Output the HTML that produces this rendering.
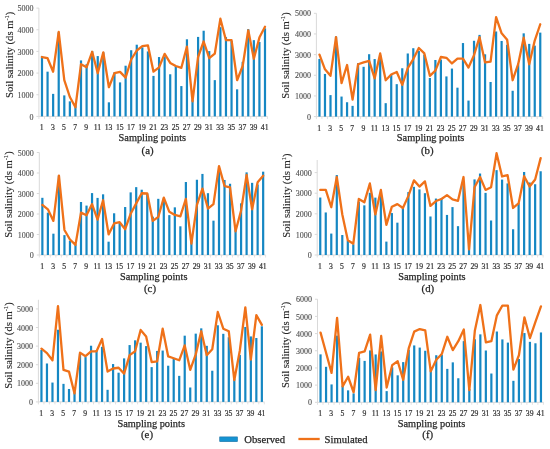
<!DOCTYPE html>
<html><head><meta charset="utf-8"><style>
html,body{margin:0;padding:0;background:#fff;}
svg{display:block;filter:blur(0.3px);}
text{font-family:"Liberation Serif",serif;fill:#262626;stroke:#262626;stroke-width:0.25px;}
.yt{font-size:8px;text-anchor:end;fill:#505050;stroke:#505050;stroke-width:0.12px;}
.xt{font-size:7.7px;text-anchor:middle;fill:#333;stroke:#333;stroke-width:0.2px;}
.st{font-size:11.2px;text-anchor:middle;}
.pl{font-size:10.8px;text-anchor:middle;}
.yl{font-size:10.6px;text-anchor:start;stroke-width:0.12px;}
.sup{font-size:6.5px;}
.lg{font-size:11px;}
</style></head><body>
<svg width="550" height="449" viewBox="0 0 550 449">
<rect width="550" height="449" fill="#fff"/>
<g><line x1="38.90" y1="8.10" x2="38.90" y2="116.40" stroke="#d9d9d9" stroke-width="1"/><line x1="38.90" y1="116.40" x2="267.48" y2="116.40" stroke="#d9d9d9" stroke-width="1"/><line x1="36.40" y1="116.40" x2="38.90" y2="116.40" stroke="#d9d9d9" stroke-width="1"/><text x="33.40" y="119.50" class="yt">0</text><line x1="36.40" y1="94.74" x2="38.90" y2="94.74" stroke="#d9d9d9" stroke-width="1"/><text x="33.40" y="97.84" class="yt">1000</text><line x1="36.40" y1="73.08" x2="38.90" y2="73.08" stroke="#d9d9d9" stroke-width="1"/><text x="33.40" y="76.18" class="yt">2000</text><line x1="36.40" y1="51.42" x2="38.90" y2="51.42" stroke="#d9d9d9" stroke-width="1"/><text x="33.40" y="54.52" class="yt">3000</text><line x1="36.40" y1="29.76" x2="38.90" y2="29.76" stroke="#d9d9d9" stroke-width="1"/><text x="33.40" y="32.86" class="yt">4000</text><line x1="36.40" y1="8.10" x2="38.90" y2="8.10" stroke="#d9d9d9" stroke-width="1"/><text x="33.40" y="11.20" class="yt">5000</text><line x1="38.90" y1="116.40" x2="38.90" y2="118.90" stroke="#d9d9d9" stroke-width="0.8"/><line x1="44.48" y1="116.40" x2="44.48" y2="118.90" stroke="#d9d9d9" stroke-width="0.8"/><line x1="50.05" y1="116.40" x2="50.05" y2="118.90" stroke="#d9d9d9" stroke-width="0.8"/><line x1="55.62" y1="116.40" x2="55.62" y2="118.90" stroke="#d9d9d9" stroke-width="0.8"/><line x1="61.20" y1="116.40" x2="61.20" y2="118.90" stroke="#d9d9d9" stroke-width="0.8"/><line x1="66.78" y1="116.40" x2="66.78" y2="118.90" stroke="#d9d9d9" stroke-width="0.8"/><line x1="72.35" y1="116.40" x2="72.35" y2="118.90" stroke="#d9d9d9" stroke-width="0.8"/><line x1="77.92" y1="116.40" x2="77.92" y2="118.90" stroke="#d9d9d9" stroke-width="0.8"/><line x1="83.50" y1="116.40" x2="83.50" y2="118.90" stroke="#d9d9d9" stroke-width="0.8"/><line x1="89.08" y1="116.40" x2="89.08" y2="118.90" stroke="#d9d9d9" stroke-width="0.8"/><line x1="94.65" y1="116.40" x2="94.65" y2="118.90" stroke="#d9d9d9" stroke-width="0.8"/><line x1="100.22" y1="116.40" x2="100.22" y2="118.90" stroke="#d9d9d9" stroke-width="0.8"/><line x1="105.80" y1="116.40" x2="105.80" y2="118.90" stroke="#d9d9d9" stroke-width="0.8"/><line x1="111.38" y1="116.40" x2="111.38" y2="118.90" stroke="#d9d9d9" stroke-width="0.8"/><line x1="116.95" y1="116.40" x2="116.95" y2="118.90" stroke="#d9d9d9" stroke-width="0.8"/><line x1="122.53" y1="116.40" x2="122.53" y2="118.90" stroke="#d9d9d9" stroke-width="0.8"/><line x1="128.10" y1="116.40" x2="128.10" y2="118.90" stroke="#d9d9d9" stroke-width="0.8"/><line x1="133.68" y1="116.40" x2="133.68" y2="118.90" stroke="#d9d9d9" stroke-width="0.8"/><line x1="139.25" y1="116.40" x2="139.25" y2="118.90" stroke="#d9d9d9" stroke-width="0.8"/><line x1="144.82" y1="116.40" x2="144.82" y2="118.90" stroke="#d9d9d9" stroke-width="0.8"/><line x1="150.40" y1="116.40" x2="150.40" y2="118.90" stroke="#d9d9d9" stroke-width="0.8"/><line x1="155.97" y1="116.40" x2="155.97" y2="118.90" stroke="#d9d9d9" stroke-width="0.8"/><line x1="161.55" y1="116.40" x2="161.55" y2="118.90" stroke="#d9d9d9" stroke-width="0.8"/><line x1="167.12" y1="116.40" x2="167.12" y2="118.90" stroke="#d9d9d9" stroke-width="0.8"/><line x1="172.70" y1="116.40" x2="172.70" y2="118.90" stroke="#d9d9d9" stroke-width="0.8"/><line x1="178.28" y1="116.40" x2="178.28" y2="118.90" stroke="#d9d9d9" stroke-width="0.8"/><line x1="183.85" y1="116.40" x2="183.85" y2="118.90" stroke="#d9d9d9" stroke-width="0.8"/><line x1="189.43" y1="116.40" x2="189.43" y2="118.90" stroke="#d9d9d9" stroke-width="0.8"/><line x1="195.00" y1="116.40" x2="195.00" y2="118.90" stroke="#d9d9d9" stroke-width="0.8"/><line x1="200.58" y1="116.40" x2="200.58" y2="118.90" stroke="#d9d9d9" stroke-width="0.8"/><line x1="206.15" y1="116.40" x2="206.15" y2="118.90" stroke="#d9d9d9" stroke-width="0.8"/><line x1="211.73" y1="116.40" x2="211.73" y2="118.90" stroke="#d9d9d9" stroke-width="0.8"/><line x1="217.30" y1="116.40" x2="217.30" y2="118.90" stroke="#d9d9d9" stroke-width="0.8"/><line x1="222.88" y1="116.40" x2="222.88" y2="118.90" stroke="#d9d9d9" stroke-width="0.8"/><line x1="228.45" y1="116.40" x2="228.45" y2="118.90" stroke="#d9d9d9" stroke-width="0.8"/><line x1="234.03" y1="116.40" x2="234.03" y2="118.90" stroke="#d9d9d9" stroke-width="0.8"/><line x1="239.60" y1="116.40" x2="239.60" y2="118.90" stroke="#d9d9d9" stroke-width="0.8"/><line x1="245.18" y1="116.40" x2="245.18" y2="118.90" stroke="#d9d9d9" stroke-width="0.8"/><line x1="250.75" y1="116.40" x2="250.75" y2="118.90" stroke="#d9d9d9" stroke-width="0.8"/><line x1="256.32" y1="116.40" x2="256.32" y2="118.90" stroke="#d9d9d9" stroke-width="0.8"/><line x1="261.90" y1="116.40" x2="261.90" y2="118.90" stroke="#d9d9d9" stroke-width="0.8"/><line x1="267.48" y1="116.40" x2="267.48" y2="118.90" stroke="#d9d9d9" stroke-width="0.8"/><rect x="40.89" y="55.97" width="2.2" height="60.43" fill="#1587c3"/><rect x="46.46" y="71.67" width="2.2" height="44.73" fill="#1587c3"/><rect x="52.04" y="93.87" width="2.2" height="22.53" fill="#1587c3"/><rect x="57.61" y="32.36" width="2.2" height="84.04" fill="#1587c3"/><rect x="63.19" y="95.39" width="2.2" height="21.01" fill="#1587c3"/><rect x="68.76" y="101.35" width="2.2" height="15.05" fill="#1587c3"/><rect x="74.34" y="105.14" width="2.2" height="11.26" fill="#1587c3"/><rect x="79.91" y="60.41" width="2.2" height="55.99" fill="#1587c3"/><rect x="85.49" y="64.20" width="2.2" height="52.20" fill="#1587c3"/><rect x="91.06" y="50.99" width="2.2" height="65.41" fill="#1587c3"/><rect x="96.64" y="56.08" width="2.2" height="60.32" fill="#1587c3"/><rect x="102.21" y="52.29" width="2.2" height="64.11" fill="#1587c3"/><rect x="107.79" y="102.32" width="2.2" height="14.08" fill="#1587c3"/><rect x="113.36" y="72.32" width="2.2" height="44.08" fill="#1587c3"/><rect x="118.94" y="82.39" width="2.2" height="34.01" fill="#1587c3"/><rect x="124.51" y="65.72" width="2.2" height="50.68" fill="#1587c3"/><rect x="130.09" y="50.23" width="2.2" height="66.17" fill="#1587c3"/><rect x="135.66" y="44.71" width="2.2" height="71.69" fill="#1587c3"/><rect x="141.24" y="47.41" width="2.2" height="68.99" fill="#1587c3"/><rect x="146.81" y="51.42" width="2.2" height="64.98" fill="#1587c3"/><rect x="152.39" y="75.90" width="2.2" height="40.50" fill="#1587c3"/><rect x="157.96" y="57.05" width="2.2" height="59.35" fill="#1587c3"/><rect x="163.54" y="56.62" width="2.2" height="59.78" fill="#1587c3"/><rect x="169.11" y="74.27" width="2.2" height="42.13" fill="#1587c3"/><rect x="174.69" y="66.04" width="2.2" height="50.36" fill="#1587c3"/><rect x="180.26" y="86.08" width="2.2" height="30.32" fill="#1587c3"/><rect x="185.84" y="39.29" width="2.2" height="77.11" fill="#1587c3"/><rect x="191.41" y="99.61" width="2.2" height="16.79" fill="#1587c3"/><rect x="196.99" y="36.91" width="2.2" height="79.49" fill="#1587c3"/><rect x="202.56" y="30.73" width="2.2" height="85.67" fill="#1587c3"/><rect x="208.14" y="51.10" width="2.2" height="65.30" fill="#1587c3"/><rect x="213.71" y="80.12" width="2.2" height="36.28" fill="#1587c3"/><rect x="219.29" y="27.16" width="2.2" height="89.24" fill="#1587c3"/><rect x="224.86" y="37.12" width="2.2" height="79.28" fill="#1587c3"/><rect x="230.44" y="41.13" width="2.2" height="75.27" fill="#1587c3"/><rect x="236.01" y="89.33" width="2.2" height="27.07" fill="#1587c3"/><rect x="241.59" y="61.82" width="2.2" height="54.58" fill="#1587c3"/><rect x="247.16" y="29.11" width="2.2" height="87.29" fill="#1587c3"/><rect x="252.74" y="40.16" width="2.2" height="76.24" fill="#1587c3"/><rect x="258.31" y="42.00" width="2.2" height="74.40" fill="#1587c3"/><rect x="263.89" y="28.35" width="2.2" height="88.05" fill="#1587c3"/><polyline points="41.99,57.01 47.56,58.20 53.14,71.69 58.71,31.93 64.29,80.21 69.86,96.99 75.44,107.30 81.01,64.20 86.59,67.30 92.16,51.81 97.74,73.21 103.31,52.31 108.89,87.20 114.46,73.21 120.04,71.91 125.61,77.61 131.19,59.50 136.76,50.51 142.34,46.09 147.91,45.31 153.49,71.69 159.06,67.30 164.64,53.91 170.21,62.90 175.79,66.00 181.36,67.79 186.94,46.61 192.51,101.24 198.09,57.01 203.66,41.50 209.24,58.20 214.81,53.61 220.39,18.69 225.96,40.20 231.54,40.20 237.11,80.21 242.69,66.00 248.26,30.30 253.84,58.81 259.41,37.60 264.99,26.71" fill="none" stroke="#ef7119" stroke-width="2.3" stroke-linejoin="round" stroke-linecap="round"/><text x="41.69" y="130.30" class="xt">1</text><text x="52.84" y="130.30" class="xt">3</text><text x="63.99" y="130.30" class="xt">5</text><text x="75.14" y="130.30" class="xt">7</text><text x="86.29" y="130.30" class="xt">9</text><text x="97.44" y="130.30" class="xt">11</text><text x="108.59" y="130.30" class="xt">13</text><text x="119.74" y="130.30" class="xt">15</text><text x="130.89" y="130.30" class="xt">17</text><text x="142.04" y="130.30" class="xt">19</text><text x="153.19" y="130.30" class="xt">21</text><text x="164.34" y="130.30" class="xt">23</text><text x="175.49" y="130.30" class="xt">25</text><text x="186.64" y="130.30" class="xt">27</text><text x="197.79" y="130.30" class="xt">29</text><text x="208.94" y="130.30" class="xt">31</text><text x="220.09" y="130.30" class="xt">33</text><text x="231.24" y="130.30" class="xt">35</text><text x="242.39" y="130.30" class="xt">37</text><text x="253.54" y="130.30" class="xt">39</text><text x="264.69" y="130.30" class="xt">41</text><text x="152.3" y="140.8" class="st" textLength="67.5" lengthAdjust="spacingAndGlyphs">Sampling points</text><text x="147.6" y="153.9" class="pl">(a)</text><text transform="translate(13.0,98.0) rotate(-90)" class="yl">Soil salinity (ds m<tspan class="sup" dy="-4">-1</tspan><tspan dy="4">)</tspan></text></g><g><line x1="316.40" y1="13.30" x2="316.40" y2="116.60" stroke="#d9d9d9" stroke-width="1"/><line x1="316.40" y1="116.60" x2="542.72" y2="116.60" stroke="#d9d9d9" stroke-width="1"/><line x1="313.90" y1="116.60" x2="316.40" y2="116.60" stroke="#d9d9d9" stroke-width="1"/><text x="310.90" y="119.70" class="yt">0</text><line x1="313.90" y1="95.94" x2="316.40" y2="95.94" stroke="#d9d9d9" stroke-width="1"/><text x="310.90" y="99.04" class="yt">1000</text><line x1="313.90" y1="75.28" x2="316.40" y2="75.28" stroke="#d9d9d9" stroke-width="1"/><text x="310.90" y="78.38" class="yt">2000</text><line x1="313.90" y1="54.62" x2="316.40" y2="54.62" stroke="#d9d9d9" stroke-width="1"/><text x="310.90" y="57.72" class="yt">3000</text><line x1="313.90" y1="33.96" x2="316.40" y2="33.96" stroke="#d9d9d9" stroke-width="1"/><text x="310.90" y="37.06" class="yt">4000</text><line x1="313.90" y1="13.30" x2="316.40" y2="13.30" stroke="#d9d9d9" stroke-width="1"/><text x="310.90" y="16.40" class="yt">5000</text><line x1="316.40" y1="116.60" x2="316.40" y2="119.10" stroke="#d9d9d9" stroke-width="0.8"/><line x1="321.92" y1="116.60" x2="321.92" y2="119.10" stroke="#d9d9d9" stroke-width="0.8"/><line x1="327.44" y1="116.60" x2="327.44" y2="119.10" stroke="#d9d9d9" stroke-width="0.8"/><line x1="332.96" y1="116.60" x2="332.96" y2="119.10" stroke="#d9d9d9" stroke-width="0.8"/><line x1="338.48" y1="116.60" x2="338.48" y2="119.10" stroke="#d9d9d9" stroke-width="0.8"/><line x1="344.00" y1="116.60" x2="344.00" y2="119.10" stroke="#d9d9d9" stroke-width="0.8"/><line x1="349.52" y1="116.60" x2="349.52" y2="119.10" stroke="#d9d9d9" stroke-width="0.8"/><line x1="355.04" y1="116.60" x2="355.04" y2="119.10" stroke="#d9d9d9" stroke-width="0.8"/><line x1="360.56" y1="116.60" x2="360.56" y2="119.10" stroke="#d9d9d9" stroke-width="0.8"/><line x1="366.08" y1="116.60" x2="366.08" y2="119.10" stroke="#d9d9d9" stroke-width="0.8"/><line x1="371.60" y1="116.60" x2="371.60" y2="119.10" stroke="#d9d9d9" stroke-width="0.8"/><line x1="377.12" y1="116.60" x2="377.12" y2="119.10" stroke="#d9d9d9" stroke-width="0.8"/><line x1="382.64" y1="116.60" x2="382.64" y2="119.10" stroke="#d9d9d9" stroke-width="0.8"/><line x1="388.16" y1="116.60" x2="388.16" y2="119.10" stroke="#d9d9d9" stroke-width="0.8"/><line x1="393.68" y1="116.60" x2="393.68" y2="119.10" stroke="#d9d9d9" stroke-width="0.8"/><line x1="399.20" y1="116.60" x2="399.20" y2="119.10" stroke="#d9d9d9" stroke-width="0.8"/><line x1="404.72" y1="116.60" x2="404.72" y2="119.10" stroke="#d9d9d9" stroke-width="0.8"/><line x1="410.24" y1="116.60" x2="410.24" y2="119.10" stroke="#d9d9d9" stroke-width="0.8"/><line x1="415.76" y1="116.60" x2="415.76" y2="119.10" stroke="#d9d9d9" stroke-width="0.8"/><line x1="421.28" y1="116.60" x2="421.28" y2="119.10" stroke="#d9d9d9" stroke-width="0.8"/><line x1="426.80" y1="116.60" x2="426.80" y2="119.10" stroke="#d9d9d9" stroke-width="0.8"/><line x1="432.32" y1="116.60" x2="432.32" y2="119.10" stroke="#d9d9d9" stroke-width="0.8"/><line x1="437.84" y1="116.60" x2="437.84" y2="119.10" stroke="#d9d9d9" stroke-width="0.8"/><line x1="443.36" y1="116.60" x2="443.36" y2="119.10" stroke="#d9d9d9" stroke-width="0.8"/><line x1="448.88" y1="116.60" x2="448.88" y2="119.10" stroke="#d9d9d9" stroke-width="0.8"/><line x1="454.40" y1="116.60" x2="454.40" y2="119.10" stroke="#d9d9d9" stroke-width="0.8"/><line x1="459.92" y1="116.60" x2="459.92" y2="119.10" stroke="#d9d9d9" stroke-width="0.8"/><line x1="465.44" y1="116.60" x2="465.44" y2="119.10" stroke="#d9d9d9" stroke-width="0.8"/><line x1="470.96" y1="116.60" x2="470.96" y2="119.10" stroke="#d9d9d9" stroke-width="0.8"/><line x1="476.48" y1="116.60" x2="476.48" y2="119.10" stroke="#d9d9d9" stroke-width="0.8"/><line x1="482.00" y1="116.60" x2="482.00" y2="119.10" stroke="#d9d9d9" stroke-width="0.8"/><line x1="487.52" y1="116.60" x2="487.52" y2="119.10" stroke="#d9d9d9" stroke-width="0.8"/><line x1="493.04" y1="116.60" x2="493.04" y2="119.10" stroke="#d9d9d9" stroke-width="0.8"/><line x1="498.56" y1="116.60" x2="498.56" y2="119.10" stroke="#d9d9d9" stroke-width="0.8"/><line x1="504.08" y1="116.60" x2="504.08" y2="119.10" stroke="#d9d9d9" stroke-width="0.8"/><line x1="509.60" y1="116.60" x2="509.60" y2="119.10" stroke="#d9d9d9" stroke-width="0.8"/><line x1="515.12" y1="116.60" x2="515.12" y2="119.10" stroke="#d9d9d9" stroke-width="0.8"/><line x1="520.64" y1="116.60" x2="520.64" y2="119.10" stroke="#d9d9d9" stroke-width="0.8"/><line x1="526.16" y1="116.60" x2="526.16" y2="119.10" stroke="#d9d9d9" stroke-width="0.8"/><line x1="531.68" y1="116.60" x2="531.68" y2="119.10" stroke="#d9d9d9" stroke-width="0.8"/><line x1="537.20" y1="116.60" x2="537.20" y2="119.10" stroke="#d9d9d9" stroke-width="0.8"/><line x1="542.72" y1="116.60" x2="542.72" y2="119.10" stroke="#d9d9d9" stroke-width="0.8"/><rect x="318.36" y="58.96" width="2.2" height="57.64" fill="#1587c3"/><rect x="323.88" y="73.94" width="2.2" height="42.66" fill="#1587c3"/><rect x="329.40" y="95.11" width="2.2" height="21.49" fill="#1587c3"/><rect x="334.92" y="36.44" width="2.2" height="80.16" fill="#1587c3"/><rect x="340.44" y="96.56" width="2.2" height="20.04" fill="#1587c3"/><rect x="345.96" y="102.24" width="2.2" height="14.36" fill="#1587c3"/><rect x="351.48" y="105.86" width="2.2" height="10.74" fill="#1587c3"/><rect x="357.00" y="63.19" width="2.2" height="53.41" fill="#1587c3"/><rect x="362.52" y="66.81" width="2.2" height="49.79" fill="#1587c3"/><rect x="368.04" y="54.21" width="2.2" height="62.39" fill="#1587c3"/><rect x="373.56" y="59.06" width="2.2" height="57.54" fill="#1587c3"/><rect x="379.08" y="55.45" width="2.2" height="61.15" fill="#1587c3"/><rect x="384.60" y="103.17" width="2.2" height="13.43" fill="#1587c3"/><rect x="390.12" y="74.56" width="2.2" height="42.04" fill="#1587c3"/><rect x="395.64" y="84.16" width="2.2" height="32.44" fill="#1587c3"/><rect x="401.16" y="68.26" width="2.2" height="48.34" fill="#1587c3"/><rect x="406.68" y="53.48" width="2.2" height="63.12" fill="#1587c3"/><rect x="412.20" y="48.22" width="2.2" height="68.38" fill="#1587c3"/><rect x="417.72" y="50.80" width="2.2" height="65.80" fill="#1587c3"/><rect x="423.24" y="54.62" width="2.2" height="61.98" fill="#1587c3"/><rect x="428.76" y="77.97" width="2.2" height="38.63" fill="#1587c3"/><rect x="434.28" y="59.99" width="2.2" height="56.61" fill="#1587c3"/><rect x="439.80" y="59.58" width="2.2" height="57.02" fill="#1587c3"/><rect x="445.32" y="76.42" width="2.2" height="40.18" fill="#1587c3"/><rect x="450.84" y="68.57" width="2.2" height="48.03" fill="#1587c3"/><rect x="456.36" y="87.68" width="2.2" height="28.92" fill="#1587c3"/><rect x="461.88" y="43.05" width="2.2" height="73.55" fill="#1587c3"/><rect x="467.40" y="100.59" width="2.2" height="16.01" fill="#1587c3"/><rect x="472.92" y="40.78" width="2.2" height="75.82" fill="#1587c3"/><rect x="478.44" y="34.89" width="2.2" height="81.71" fill="#1587c3"/><rect x="483.96" y="54.31" width="2.2" height="62.29" fill="#1587c3"/><rect x="489.48" y="81.99" width="2.2" height="34.61" fill="#1587c3"/><rect x="495.00" y="31.48" width="2.2" height="85.12" fill="#1587c3"/><rect x="500.52" y="40.98" width="2.2" height="75.62" fill="#1587c3"/><rect x="506.04" y="44.81" width="2.2" height="71.79" fill="#1587c3"/><rect x="511.56" y="90.77" width="2.2" height="25.82" fill="#1587c3"/><rect x="517.08" y="64.54" width="2.2" height="52.06" fill="#1587c3"/><rect x="522.60" y="33.34" width="2.2" height="83.26" fill="#1587c3"/><rect x="528.12" y="43.88" width="2.2" height="72.72" fill="#1587c3"/><rect x="533.64" y="45.63" width="2.2" height="70.97" fill="#1587c3"/><rect x="539.16" y="32.62" width="2.2" height="83.98" fill="#1587c3"/><polyline points="319.46,54.68 324.98,69.37 330.50,75.84 336.02,37.16 341.54,83.05 347.06,64.99 352.58,99.56 358.10,64.23 363.62,62.43 369.14,60.88 374.66,78.40 380.18,53.40 385.70,80.22 391.22,74.54 396.74,71.95 402.26,84.85 407.78,68.09 413.30,59.06 418.82,47.99 424.34,53.40 429.86,75.84 435.38,70.67 440.90,57.00 446.42,57.78 451.94,63.46 457.46,58.55 462.98,58.55 468.50,67.57 474.02,55.20 479.54,37.16 485.06,62.43 490.58,61.64 496.10,17.04 501.62,33.28 507.14,39.72 512.66,80.22 518.18,64.23 523.70,37.68 529.22,64.23 534.74,40.51 540.26,24.25" fill="none" stroke="#ef7119" stroke-width="2.3" stroke-linejoin="round" stroke-linecap="round"/><text x="319.16" y="130.50" class="xt">1</text><text x="330.20" y="130.50" class="xt">3</text><text x="341.24" y="130.50" class="xt">5</text><text x="352.28" y="130.50" class="xt">7</text><text x="363.32" y="130.50" class="xt">9</text><text x="374.36" y="130.50" class="xt">11</text><text x="385.40" y="130.50" class="xt">13</text><text x="396.44" y="130.50" class="xt">15</text><text x="407.48" y="130.50" class="xt">17</text><text x="418.52" y="130.50" class="xt">19</text><text x="429.56" y="130.50" class="xt">21</text><text x="440.60" y="130.50" class="xt">23</text><text x="451.64" y="130.50" class="xt">25</text><text x="462.68" y="130.50" class="xt">27</text><text x="473.72" y="130.50" class="xt">29</text><text x="484.76" y="130.50" class="xt">31</text><text x="495.80" y="130.50" class="xt">33</text><text x="506.84" y="130.50" class="xt">35</text><text x="517.88" y="130.50" class="xt">37</text><text x="528.92" y="130.50" class="xt">39</text><text x="539.96" y="130.50" class="xt">41</text><text x="430.6" y="141.0" class="st" textLength="67.5" lengthAdjust="spacingAndGlyphs">Sampling points</text><text x="427.3" y="153.79999999999998" class="pl">(b)</text><text transform="translate(289.0,98.7) rotate(-90)" class="yl">Soil salinity (ds m<tspan class="sup" dy="-4">-1</tspan><tspan dy="4">)</tspan></text></g><g><line x1="39.30" y1="152.50" x2="39.30" y2="255.00" stroke="#d9d9d9" stroke-width="1"/><line x1="39.30" y1="255.00" x2="265.62" y2="255.00" stroke="#d9d9d9" stroke-width="1"/><line x1="36.80" y1="255.00" x2="39.30" y2="255.00" stroke="#d9d9d9" stroke-width="1"/><text x="33.80" y="258.10" class="yt">0</text><line x1="36.80" y1="234.50" x2="39.30" y2="234.50" stroke="#d9d9d9" stroke-width="1"/><text x="33.80" y="237.60" class="yt">1000</text><line x1="36.80" y1="214.00" x2="39.30" y2="214.00" stroke="#d9d9d9" stroke-width="1"/><text x="33.80" y="217.10" class="yt">2000</text><line x1="36.80" y1="193.50" x2="39.30" y2="193.50" stroke="#d9d9d9" stroke-width="1"/><text x="33.80" y="196.60" class="yt">3000</text><line x1="36.80" y1="173.00" x2="39.30" y2="173.00" stroke="#d9d9d9" stroke-width="1"/><text x="33.80" y="176.10" class="yt">4000</text><line x1="36.80" y1="152.50" x2="39.30" y2="152.50" stroke="#d9d9d9" stroke-width="1"/><text x="33.80" y="155.60" class="yt">5000</text><line x1="39.30" y1="255.00" x2="39.30" y2="257.50" stroke="#d9d9d9" stroke-width="0.8"/><line x1="44.82" y1="255.00" x2="44.82" y2="257.50" stroke="#d9d9d9" stroke-width="0.8"/><line x1="50.34" y1="255.00" x2="50.34" y2="257.50" stroke="#d9d9d9" stroke-width="0.8"/><line x1="55.86" y1="255.00" x2="55.86" y2="257.50" stroke="#d9d9d9" stroke-width="0.8"/><line x1="61.38" y1="255.00" x2="61.38" y2="257.50" stroke="#d9d9d9" stroke-width="0.8"/><line x1="66.90" y1="255.00" x2="66.90" y2="257.50" stroke="#d9d9d9" stroke-width="0.8"/><line x1="72.42" y1="255.00" x2="72.42" y2="257.50" stroke="#d9d9d9" stroke-width="0.8"/><line x1="77.94" y1="255.00" x2="77.94" y2="257.50" stroke="#d9d9d9" stroke-width="0.8"/><line x1="83.46" y1="255.00" x2="83.46" y2="257.50" stroke="#d9d9d9" stroke-width="0.8"/><line x1="88.98" y1="255.00" x2="88.98" y2="257.50" stroke="#d9d9d9" stroke-width="0.8"/><line x1="94.50" y1="255.00" x2="94.50" y2="257.50" stroke="#d9d9d9" stroke-width="0.8"/><line x1="100.02" y1="255.00" x2="100.02" y2="257.50" stroke="#d9d9d9" stroke-width="0.8"/><line x1="105.54" y1="255.00" x2="105.54" y2="257.50" stroke="#d9d9d9" stroke-width="0.8"/><line x1="111.06" y1="255.00" x2="111.06" y2="257.50" stroke="#d9d9d9" stroke-width="0.8"/><line x1="116.58" y1="255.00" x2="116.58" y2="257.50" stroke="#d9d9d9" stroke-width="0.8"/><line x1="122.10" y1="255.00" x2="122.10" y2="257.50" stroke="#d9d9d9" stroke-width="0.8"/><line x1="127.62" y1="255.00" x2="127.62" y2="257.50" stroke="#d9d9d9" stroke-width="0.8"/><line x1="133.14" y1="255.00" x2="133.14" y2="257.50" stroke="#d9d9d9" stroke-width="0.8"/><line x1="138.66" y1="255.00" x2="138.66" y2="257.50" stroke="#d9d9d9" stroke-width="0.8"/><line x1="144.18" y1="255.00" x2="144.18" y2="257.50" stroke="#d9d9d9" stroke-width="0.8"/><line x1="149.70" y1="255.00" x2="149.70" y2="257.50" stroke="#d9d9d9" stroke-width="0.8"/><line x1="155.22" y1="255.00" x2="155.22" y2="257.50" stroke="#d9d9d9" stroke-width="0.8"/><line x1="160.74" y1="255.00" x2="160.74" y2="257.50" stroke="#d9d9d9" stroke-width="0.8"/><line x1="166.26" y1="255.00" x2="166.26" y2="257.50" stroke="#d9d9d9" stroke-width="0.8"/><line x1="171.78" y1="255.00" x2="171.78" y2="257.50" stroke="#d9d9d9" stroke-width="0.8"/><line x1="177.30" y1="255.00" x2="177.30" y2="257.50" stroke="#d9d9d9" stroke-width="0.8"/><line x1="182.82" y1="255.00" x2="182.82" y2="257.50" stroke="#d9d9d9" stroke-width="0.8"/><line x1="188.34" y1="255.00" x2="188.34" y2="257.50" stroke="#d9d9d9" stroke-width="0.8"/><line x1="193.86" y1="255.00" x2="193.86" y2="257.50" stroke="#d9d9d9" stroke-width="0.8"/><line x1="199.38" y1="255.00" x2="199.38" y2="257.50" stroke="#d9d9d9" stroke-width="0.8"/><line x1="204.90" y1="255.00" x2="204.90" y2="257.50" stroke="#d9d9d9" stroke-width="0.8"/><line x1="210.42" y1="255.00" x2="210.42" y2="257.50" stroke="#d9d9d9" stroke-width="0.8"/><line x1="215.94" y1="255.00" x2="215.94" y2="257.50" stroke="#d9d9d9" stroke-width="0.8"/><line x1="221.46" y1="255.00" x2="221.46" y2="257.50" stroke="#d9d9d9" stroke-width="0.8"/><line x1="226.98" y1="255.00" x2="226.98" y2="257.50" stroke="#d9d9d9" stroke-width="0.8"/><line x1="232.50" y1="255.00" x2="232.50" y2="257.50" stroke="#d9d9d9" stroke-width="0.8"/><line x1="238.02" y1="255.00" x2="238.02" y2="257.50" stroke="#d9d9d9" stroke-width="0.8"/><line x1="243.54" y1="255.00" x2="243.54" y2="257.50" stroke="#d9d9d9" stroke-width="0.8"/><line x1="249.06" y1="255.00" x2="249.06" y2="257.50" stroke="#d9d9d9" stroke-width="0.8"/><line x1="254.58" y1="255.00" x2="254.58" y2="257.50" stroke="#d9d9d9" stroke-width="0.8"/><line x1="260.10" y1="255.00" x2="260.10" y2="257.50" stroke="#d9d9d9" stroke-width="0.8"/><line x1="265.62" y1="255.00" x2="265.62" y2="257.50" stroke="#d9d9d9" stroke-width="0.8"/><rect x="41.26" y="197.81" width="2.2" height="57.20" fill="#1587c3"/><rect x="46.78" y="212.67" width="2.2" height="42.33" fill="#1587c3"/><rect x="52.30" y="233.68" width="2.2" height="21.32" fill="#1587c3"/><rect x="57.82" y="175.46" width="2.2" height="79.54" fill="#1587c3"/><rect x="63.34" y="235.12" width="2.2" height="19.88" fill="#1587c3"/><rect x="68.86" y="240.75" width="2.2" height="14.25" fill="#1587c3"/><rect x="74.38" y="244.34" width="2.2" height="10.66" fill="#1587c3"/><rect x="79.90" y="202.01" width="2.2" height="52.99" fill="#1587c3"/><rect x="85.42" y="205.59" width="2.2" height="49.41" fill="#1587c3"/><rect x="90.94" y="193.09" width="2.2" height="61.91" fill="#1587c3"/><rect x="96.46" y="197.91" width="2.2" height="57.09" fill="#1587c3"/><rect x="101.98" y="194.32" width="2.2" height="60.68" fill="#1587c3"/><rect x="107.50" y="241.68" width="2.2" height="13.33" fill="#1587c3"/><rect x="113.02" y="213.28" width="2.2" height="41.72" fill="#1587c3"/><rect x="118.54" y="222.81" width="2.2" height="32.19" fill="#1587c3"/><rect x="124.06" y="207.03" width="2.2" height="47.97" fill="#1587c3"/><rect x="129.58" y="192.37" width="2.2" height="62.63" fill="#1587c3"/><rect x="135.10" y="187.14" width="2.2" height="67.86" fill="#1587c3"/><rect x="140.62" y="189.71" width="2.2" height="65.29" fill="#1587c3"/><rect x="146.14" y="193.50" width="2.2" height="61.50" fill="#1587c3"/><rect x="151.66" y="216.66" width="2.2" height="38.34" fill="#1587c3"/><rect x="157.18" y="198.83" width="2.2" height="56.17" fill="#1587c3"/><rect x="162.70" y="198.42" width="2.2" height="56.58" fill="#1587c3"/><rect x="168.22" y="215.13" width="2.2" height="39.87" fill="#1587c3"/><rect x="173.74" y="207.34" width="2.2" height="47.66" fill="#1587c3"/><rect x="179.26" y="226.30" width="2.2" height="28.70" fill="#1587c3"/><rect x="184.78" y="182.02" width="2.2" height="72.98" fill="#1587c3"/><rect x="190.30" y="239.11" width="2.2" height="15.89" fill="#1587c3"/><rect x="195.82" y="179.76" width="2.2" height="75.23" fill="#1587c3"/><rect x="201.34" y="173.92" width="2.2" height="81.08" fill="#1587c3"/><rect x="206.86" y="193.19" width="2.2" height="61.81" fill="#1587c3"/><rect x="212.38" y="220.66" width="2.2" height="34.34" fill="#1587c3"/><rect x="217.90" y="170.54" width="2.2" height="84.46" fill="#1587c3"/><rect x="223.42" y="179.97" width="2.2" height="75.03" fill="#1587c3"/><rect x="228.94" y="183.76" width="2.2" height="71.24" fill="#1587c3"/><rect x="234.46" y="229.38" width="2.2" height="25.62" fill="#1587c3"/><rect x="239.98" y="203.34" width="2.2" height="51.66" fill="#1587c3"/><rect x="245.50" y="172.38" width="2.2" height="82.62" fill="#1587c3"/><rect x="251.02" y="182.84" width="2.2" height="72.16" fill="#1587c3"/><rect x="256.54" y="184.58" width="2.2" height="70.42" fill="#1587c3"/><rect x="262.06" y="171.67" width="2.2" height="83.33" fill="#1587c3"/><polyline points="42.36,204.90 47.88,209.28 53.40,220.91 58.92,175.71 64.44,229.97 69.96,239.52 75.48,244.93 81.00,212.65 86.52,215.23 92.04,204.12 97.56,219.62 103.08,200.24 108.60,234.36 114.12,223.49 119.64,222.20 125.16,229.17 130.68,213.67 136.20,203.34 141.72,193.27 147.24,193.50 152.76,220.91 158.28,217.03 163.80,197.66 169.32,211.87 174.84,214.96 180.36,216.28 185.88,198.95 191.40,243.64 196.92,204.90 202.44,188.62 207.96,208.53 213.48,204.12 219.00,166.15 224.52,186.04 230.04,187.33 235.56,231.24 241.08,210.58 246.60,174.93 252.12,209.28 257.64,182.16 263.16,175.71" fill="none" stroke="#ef7119" stroke-width="2.3" stroke-linejoin="round" stroke-linecap="round"/><text x="42.06" y="268.90" class="xt">1</text><text x="53.10" y="268.90" class="xt">3</text><text x="64.14" y="268.90" class="xt">5</text><text x="75.18" y="268.90" class="xt">7</text><text x="86.22" y="268.90" class="xt">9</text><text x="97.26" y="268.90" class="xt">11</text><text x="108.30" y="268.90" class="xt">13</text><text x="119.34" y="268.90" class="xt">15</text><text x="130.38" y="268.90" class="xt">17</text><text x="141.42" y="268.90" class="xt">19</text><text x="152.46" y="268.90" class="xt">21</text><text x="163.50" y="268.90" class="xt">23</text><text x="174.54" y="268.90" class="xt">25</text><text x="185.58" y="268.90" class="xt">27</text><text x="196.62" y="268.90" class="xt">29</text><text x="207.66" y="268.90" class="xt">31</text><text x="218.70" y="268.90" class="xt">33</text><text x="229.74" y="268.90" class="xt">35</text><text x="240.78" y="268.90" class="xt">37</text><text x="251.82" y="268.90" class="xt">39</text><text x="262.86" y="268.90" class="xt">41</text><text x="153.7" y="280.4" class="st" textLength="67.5" lengthAdjust="spacingAndGlyphs">Sampling points</text><text x="150.0" y="292.40000000000003" class="pl">(c)</text><text transform="translate(12.0,237.7) rotate(-90)" class="yl">Soil salinity (ds m<tspan class="sup" dy="-4">-1</tspan><tspan dy="4">)</tspan></text></g><g><line x1="317.20" y1="160.00" x2="317.20" y2="255.00" stroke="#d9d9d9" stroke-width="1"/><line x1="317.20" y1="255.00" x2="543.11" y2="255.00" stroke="#d9d9d9" stroke-width="1"/><line x1="314.70" y1="255.00" x2="317.20" y2="255.00" stroke="#d9d9d9" stroke-width="1"/><text x="311.70" y="258.10" class="yt">0</text><line x1="314.70" y1="234.40" x2="317.20" y2="234.40" stroke="#d9d9d9" stroke-width="1"/><text x="311.70" y="237.50" class="yt">1000</text><line x1="314.70" y1="213.80" x2="317.20" y2="213.80" stroke="#d9d9d9" stroke-width="1"/><text x="311.70" y="216.90" class="yt">2000</text><line x1="314.70" y1="193.20" x2="317.20" y2="193.20" stroke="#d9d9d9" stroke-width="1"/><text x="311.70" y="196.30" class="yt">3000</text><line x1="314.70" y1="172.60" x2="317.20" y2="172.60" stroke="#d9d9d9" stroke-width="1"/><text x="311.70" y="175.70" class="yt">4000</text><line x1="317.20" y1="255.00" x2="317.20" y2="257.50" stroke="#d9d9d9" stroke-width="0.8"/><line x1="322.71" y1="255.00" x2="322.71" y2="257.50" stroke="#d9d9d9" stroke-width="0.8"/><line x1="328.22" y1="255.00" x2="328.22" y2="257.50" stroke="#d9d9d9" stroke-width="0.8"/><line x1="333.73" y1="255.00" x2="333.73" y2="257.50" stroke="#d9d9d9" stroke-width="0.8"/><line x1="339.24" y1="255.00" x2="339.24" y2="257.50" stroke="#d9d9d9" stroke-width="0.8"/><line x1="344.75" y1="255.00" x2="344.75" y2="257.50" stroke="#d9d9d9" stroke-width="0.8"/><line x1="350.26" y1="255.00" x2="350.26" y2="257.50" stroke="#d9d9d9" stroke-width="0.8"/><line x1="355.77" y1="255.00" x2="355.77" y2="257.50" stroke="#d9d9d9" stroke-width="0.8"/><line x1="361.28" y1="255.00" x2="361.28" y2="257.50" stroke="#d9d9d9" stroke-width="0.8"/><line x1="366.79" y1="255.00" x2="366.79" y2="257.50" stroke="#d9d9d9" stroke-width="0.8"/><line x1="372.30" y1="255.00" x2="372.30" y2="257.50" stroke="#d9d9d9" stroke-width="0.8"/><line x1="377.81" y1="255.00" x2="377.81" y2="257.50" stroke="#d9d9d9" stroke-width="0.8"/><line x1="383.32" y1="255.00" x2="383.32" y2="257.50" stroke="#d9d9d9" stroke-width="0.8"/><line x1="388.83" y1="255.00" x2="388.83" y2="257.50" stroke="#d9d9d9" stroke-width="0.8"/><line x1="394.34" y1="255.00" x2="394.34" y2="257.50" stroke="#d9d9d9" stroke-width="0.8"/><line x1="399.85" y1="255.00" x2="399.85" y2="257.50" stroke="#d9d9d9" stroke-width="0.8"/><line x1="405.36" y1="255.00" x2="405.36" y2="257.50" stroke="#d9d9d9" stroke-width="0.8"/><line x1="410.87" y1="255.00" x2="410.87" y2="257.50" stroke="#d9d9d9" stroke-width="0.8"/><line x1="416.38" y1="255.00" x2="416.38" y2="257.50" stroke="#d9d9d9" stroke-width="0.8"/><line x1="421.89" y1="255.00" x2="421.89" y2="257.50" stroke="#d9d9d9" stroke-width="0.8"/><line x1="427.40" y1="255.00" x2="427.40" y2="257.50" stroke="#d9d9d9" stroke-width="0.8"/><line x1="432.91" y1="255.00" x2="432.91" y2="257.50" stroke="#d9d9d9" stroke-width="0.8"/><line x1="438.42" y1="255.00" x2="438.42" y2="257.50" stroke="#d9d9d9" stroke-width="0.8"/><line x1="443.93" y1="255.00" x2="443.93" y2="257.50" stroke="#d9d9d9" stroke-width="0.8"/><line x1="449.44" y1="255.00" x2="449.44" y2="257.50" stroke="#d9d9d9" stroke-width="0.8"/><line x1="454.95" y1="255.00" x2="454.95" y2="257.50" stroke="#d9d9d9" stroke-width="0.8"/><line x1="460.46" y1="255.00" x2="460.46" y2="257.50" stroke="#d9d9d9" stroke-width="0.8"/><line x1="465.97" y1="255.00" x2="465.97" y2="257.50" stroke="#d9d9d9" stroke-width="0.8"/><line x1="471.48" y1="255.00" x2="471.48" y2="257.50" stroke="#d9d9d9" stroke-width="0.8"/><line x1="476.99" y1="255.00" x2="476.99" y2="257.50" stroke="#d9d9d9" stroke-width="0.8"/><line x1="482.50" y1="255.00" x2="482.50" y2="257.50" stroke="#d9d9d9" stroke-width="0.8"/><line x1="488.01" y1="255.00" x2="488.01" y2="257.50" stroke="#d9d9d9" stroke-width="0.8"/><line x1="493.52" y1="255.00" x2="493.52" y2="257.50" stroke="#d9d9d9" stroke-width="0.8"/><line x1="499.03" y1="255.00" x2="499.03" y2="257.50" stroke="#d9d9d9" stroke-width="0.8"/><line x1="504.54" y1="255.00" x2="504.54" y2="257.50" stroke="#d9d9d9" stroke-width="0.8"/><line x1="510.05" y1="255.00" x2="510.05" y2="257.50" stroke="#d9d9d9" stroke-width="0.8"/><line x1="515.56" y1="255.00" x2="515.56" y2="257.50" stroke="#d9d9d9" stroke-width="0.8"/><line x1="521.07" y1="255.00" x2="521.07" y2="257.50" stroke="#d9d9d9" stroke-width="0.8"/><line x1="526.58" y1="255.00" x2="526.58" y2="257.50" stroke="#d9d9d9" stroke-width="0.8"/><line x1="532.09" y1="255.00" x2="532.09" y2="257.50" stroke="#d9d9d9" stroke-width="0.8"/><line x1="537.60" y1="255.00" x2="537.60" y2="257.50" stroke="#d9d9d9" stroke-width="0.8"/><line x1="543.11" y1="255.00" x2="543.11" y2="257.50" stroke="#d9d9d9" stroke-width="0.8"/><rect x="319.15" y="197.53" width="2.2" height="57.47" fill="#1587c3"/><rect x="324.66" y="212.46" width="2.2" height="42.54" fill="#1587c3"/><rect x="330.17" y="233.58" width="2.2" height="21.42" fill="#1587c3"/><rect x="335.69" y="175.07" width="2.2" height="79.93" fill="#1587c3"/><rect x="341.19" y="235.02" width="2.2" height="19.98" fill="#1587c3"/><rect x="346.70" y="240.68" width="2.2" height="14.32" fill="#1587c3"/><rect x="352.21" y="244.29" width="2.2" height="10.71" fill="#1587c3"/><rect x="357.72" y="201.75" width="2.2" height="53.25" fill="#1587c3"/><rect x="363.23" y="205.35" width="2.2" height="49.65" fill="#1587c3"/><rect x="368.74" y="192.79" width="2.2" height="62.21" fill="#1587c3"/><rect x="374.25" y="197.63" width="2.2" height="57.37" fill="#1587c3"/><rect x="379.76" y="194.02" width="2.2" height="60.98" fill="#1587c3"/><rect x="385.27" y="241.61" width="2.2" height="13.39" fill="#1587c3"/><rect x="390.78" y="213.08" width="2.2" height="41.92" fill="#1587c3"/><rect x="396.29" y="222.66" width="2.2" height="32.34" fill="#1587c3"/><rect x="401.81" y="206.80" width="2.2" height="48.20" fill="#1587c3"/><rect x="407.31" y="192.07" width="2.2" height="62.93" fill="#1587c3"/><rect x="412.82" y="186.81" width="2.2" height="68.19" fill="#1587c3"/><rect x="418.33" y="189.39" width="2.2" height="65.61" fill="#1587c3"/><rect x="423.84" y="193.20" width="2.2" height="61.80" fill="#1587c3"/><rect x="429.35" y="216.48" width="2.2" height="38.52" fill="#1587c3"/><rect x="434.86" y="198.56" width="2.2" height="56.44" fill="#1587c3"/><rect x="440.37" y="198.14" width="2.2" height="56.86" fill="#1587c3"/><rect x="445.88" y="214.93" width="2.2" height="40.07" fill="#1587c3"/><rect x="451.39" y="207.10" width="2.2" height="47.90" fill="#1587c3"/><rect x="456.90" y="226.16" width="2.2" height="28.84" fill="#1587c3"/><rect x="462.41" y="181.66" width="2.2" height="73.34" fill="#1587c3"/><rect x="467.93" y="239.03" width="2.2" height="15.97" fill="#1587c3"/><rect x="473.44" y="179.40" width="2.2" height="75.60" fill="#1587c3"/><rect x="478.94" y="173.53" width="2.2" height="81.47" fill="#1587c3"/><rect x="484.45" y="192.89" width="2.2" height="62.11" fill="#1587c3"/><rect x="489.96" y="220.50" width="2.2" height="34.51" fill="#1587c3"/><rect x="495.47" y="170.13" width="2.2" height="84.87" fill="#1587c3"/><rect x="500.98" y="179.60" width="2.2" height="75.40" fill="#1587c3"/><rect x="506.49" y="183.41" width="2.2" height="71.59" fill="#1587c3"/><rect x="512.00" y="229.25" width="2.2" height="25.75" fill="#1587c3"/><rect x="517.51" y="203.09" width="2.2" height="51.91" fill="#1587c3"/><rect x="523.02" y="171.98" width="2.2" height="83.02" fill="#1587c3"/><rect x="528.53" y="182.49" width="2.2" height="72.51" fill="#1587c3"/><rect x="534.04" y="184.24" width="2.2" height="70.76" fill="#1587c3"/><rect x="539.55" y="171.26" width="2.2" height="83.74" fill="#1587c3"/><polyline points="320.25,189.92 325.76,189.92 331.27,207.23 336.79,177.01 342.30,214.46 347.81,240.29 353.31,243.65 358.82,198.97 364.33,202.33 369.84,183.46 375.36,214.46 380.87,189.92 386.38,224.80 391.88,206.69 397.39,204.12 402.91,207.99 408.42,195.86 413.93,180.37 419.44,186.57 424.94,181.40 430.45,205.93 435.96,201.03 441.47,198.97 446.98,195.07 452.50,199.46 458.00,200.76 463.51,177.01 469.03,249.34 474.54,187.33 480.05,177.01 485.56,189.92 491.06,187.33 496.57,153.24 502.08,176.47 507.59,175.20 513.10,207.99 518.61,203.36 524.12,176.23 529.63,186.57 535.14,179.58 540.65,158.14" fill="none" stroke="#ef7119" stroke-width="2.3" stroke-linejoin="round" stroke-linecap="round"/><text x="319.95" y="268.90" class="xt">1</text><text x="330.97" y="268.90" class="xt">3</text><text x="342.00" y="268.90" class="xt">5</text><text x="353.01" y="268.90" class="xt">7</text><text x="364.03" y="268.90" class="xt">9</text><text x="375.06" y="268.90" class="xt">11</text><text x="386.07" y="268.90" class="xt">13</text><text x="397.09" y="268.90" class="xt">15</text><text x="408.12" y="268.90" class="xt">17</text><text x="419.13" y="268.90" class="xt">19</text><text x="430.15" y="268.90" class="xt">21</text><text x="441.17" y="268.90" class="xt">23</text><text x="452.19" y="268.90" class="xt">25</text><text x="463.21" y="268.90" class="xt">27</text><text x="474.24" y="268.90" class="xt">29</text><text x="485.25" y="268.90" class="xt">31</text><text x="496.27" y="268.90" class="xt">33</text><text x="507.29" y="268.90" class="xt">35</text><text x="518.31" y="268.90" class="xt">37</text><text x="529.34" y="268.90" class="xt">39</text><text x="540.36" y="268.90" class="xt">41</text><text x="431.9" y="280.0" class="st" textLength="67.5" lengthAdjust="spacingAndGlyphs">Sampling points</text><text x="427.9" y="292.40000000000003" class="pl">(d)</text><text transform="translate(290.0,237.7) rotate(-90)" class="yl">Soil salinity (ds m<tspan class="sup" dy="-4">1</tspan><tspan dy="4">)</tspan></text></g><g><line x1="38.40" y1="299.80" x2="38.40" y2="401.90" stroke="#d9d9d9" stroke-width="1"/><line x1="38.40" y1="401.90" x2="264.31" y2="401.90" stroke="#d9d9d9" stroke-width="1"/><line x1="35.90" y1="401.90" x2="38.40" y2="401.90" stroke="#d9d9d9" stroke-width="1"/><text x="32.90" y="405.00" class="yt">0</text><line x1="35.90" y1="383.30" x2="38.40" y2="383.30" stroke="#d9d9d9" stroke-width="1"/><text x="32.90" y="386.40" class="yt">1000</text><line x1="35.90" y1="364.70" x2="38.40" y2="364.70" stroke="#d9d9d9" stroke-width="1"/><text x="32.90" y="367.80" class="yt">2000</text><line x1="35.90" y1="346.10" x2="38.40" y2="346.10" stroke="#d9d9d9" stroke-width="1"/><text x="32.90" y="349.20" class="yt">3000</text><line x1="35.90" y1="327.50" x2="38.40" y2="327.50" stroke="#d9d9d9" stroke-width="1"/><text x="32.90" y="330.60" class="yt">4000</text><line x1="35.90" y1="308.90" x2="38.40" y2="308.90" stroke="#d9d9d9" stroke-width="1"/><text x="32.90" y="312.00" class="yt">5000</text><line x1="38.40" y1="401.90" x2="38.40" y2="404.40" stroke="#d9d9d9" stroke-width="0.8"/><line x1="43.91" y1="401.90" x2="43.91" y2="404.40" stroke="#d9d9d9" stroke-width="0.8"/><line x1="49.42" y1="401.90" x2="49.42" y2="404.40" stroke="#d9d9d9" stroke-width="0.8"/><line x1="54.93" y1="401.90" x2="54.93" y2="404.40" stroke="#d9d9d9" stroke-width="0.8"/><line x1="60.44" y1="401.90" x2="60.44" y2="404.40" stroke="#d9d9d9" stroke-width="0.8"/><line x1="65.95" y1="401.90" x2="65.95" y2="404.40" stroke="#d9d9d9" stroke-width="0.8"/><line x1="71.46" y1="401.90" x2="71.46" y2="404.40" stroke="#d9d9d9" stroke-width="0.8"/><line x1="76.97" y1="401.90" x2="76.97" y2="404.40" stroke="#d9d9d9" stroke-width="0.8"/><line x1="82.48" y1="401.90" x2="82.48" y2="404.40" stroke="#d9d9d9" stroke-width="0.8"/><line x1="87.99" y1="401.90" x2="87.99" y2="404.40" stroke="#d9d9d9" stroke-width="0.8"/><line x1="93.50" y1="401.90" x2="93.50" y2="404.40" stroke="#d9d9d9" stroke-width="0.8"/><line x1="99.01" y1="401.90" x2="99.01" y2="404.40" stroke="#d9d9d9" stroke-width="0.8"/><line x1="104.52" y1="401.90" x2="104.52" y2="404.40" stroke="#d9d9d9" stroke-width="0.8"/><line x1="110.03" y1="401.90" x2="110.03" y2="404.40" stroke="#d9d9d9" stroke-width="0.8"/><line x1="115.54" y1="401.90" x2="115.54" y2="404.40" stroke="#d9d9d9" stroke-width="0.8"/><line x1="121.05" y1="401.90" x2="121.05" y2="404.40" stroke="#d9d9d9" stroke-width="0.8"/><line x1="126.56" y1="401.90" x2="126.56" y2="404.40" stroke="#d9d9d9" stroke-width="0.8"/><line x1="132.07" y1="401.90" x2="132.07" y2="404.40" stroke="#d9d9d9" stroke-width="0.8"/><line x1="137.58" y1="401.90" x2="137.58" y2="404.40" stroke="#d9d9d9" stroke-width="0.8"/><line x1="143.09" y1="401.90" x2="143.09" y2="404.40" stroke="#d9d9d9" stroke-width="0.8"/><line x1="148.60" y1="401.90" x2="148.60" y2="404.40" stroke="#d9d9d9" stroke-width="0.8"/><line x1="154.11" y1="401.90" x2="154.11" y2="404.40" stroke="#d9d9d9" stroke-width="0.8"/><line x1="159.62" y1="401.90" x2="159.62" y2="404.40" stroke="#d9d9d9" stroke-width="0.8"/><line x1="165.13" y1="401.90" x2="165.13" y2="404.40" stroke="#d9d9d9" stroke-width="0.8"/><line x1="170.64" y1="401.90" x2="170.64" y2="404.40" stroke="#d9d9d9" stroke-width="0.8"/><line x1="176.15" y1="401.90" x2="176.15" y2="404.40" stroke="#d9d9d9" stroke-width="0.8"/><line x1="181.66" y1="401.90" x2="181.66" y2="404.40" stroke="#d9d9d9" stroke-width="0.8"/><line x1="187.17" y1="401.90" x2="187.17" y2="404.40" stroke="#d9d9d9" stroke-width="0.8"/><line x1="192.68" y1="401.90" x2="192.68" y2="404.40" stroke="#d9d9d9" stroke-width="0.8"/><line x1="198.19" y1="401.90" x2="198.19" y2="404.40" stroke="#d9d9d9" stroke-width="0.8"/><line x1="203.70" y1="401.90" x2="203.70" y2="404.40" stroke="#d9d9d9" stroke-width="0.8"/><line x1="209.21" y1="401.90" x2="209.21" y2="404.40" stroke="#d9d9d9" stroke-width="0.8"/><line x1="214.72" y1="401.90" x2="214.72" y2="404.40" stroke="#d9d9d9" stroke-width="0.8"/><line x1="220.23" y1="401.90" x2="220.23" y2="404.40" stroke="#d9d9d9" stroke-width="0.8"/><line x1="225.74" y1="401.90" x2="225.74" y2="404.40" stroke="#d9d9d9" stroke-width="0.8"/><line x1="231.25" y1="401.90" x2="231.25" y2="404.40" stroke="#d9d9d9" stroke-width="0.8"/><line x1="236.76" y1="401.90" x2="236.76" y2="404.40" stroke="#d9d9d9" stroke-width="0.8"/><line x1="242.27" y1="401.90" x2="242.27" y2="404.40" stroke="#d9d9d9" stroke-width="0.8"/><line x1="247.78" y1="401.90" x2="247.78" y2="404.40" stroke="#d9d9d9" stroke-width="0.8"/><line x1="253.29" y1="401.90" x2="253.29" y2="404.40" stroke="#d9d9d9" stroke-width="0.8"/><line x1="258.80" y1="401.90" x2="258.80" y2="404.40" stroke="#d9d9d9" stroke-width="0.8"/><line x1="264.31" y1="401.90" x2="264.31" y2="404.40" stroke="#d9d9d9" stroke-width="0.8"/><rect x="40.35" y="350.01" width="2.2" height="51.89" fill="#1587c3"/><rect x="45.86" y="363.49" width="2.2" height="38.41" fill="#1587c3"/><rect x="51.37" y="382.56" width="2.2" height="19.34" fill="#1587c3"/><rect x="56.88" y="329.73" width="2.2" height="72.17" fill="#1587c3"/><rect x="62.39" y="383.86" width="2.2" height="18.04" fill="#1587c3"/><rect x="67.91" y="388.97" width="2.2" height="12.93" fill="#1587c3"/><rect x="73.42" y="392.23" width="2.2" height="9.67" fill="#1587c3"/><rect x="78.92" y="353.82" width="2.2" height="48.08" fill="#1587c3"/><rect x="84.44" y="357.07" width="2.2" height="44.83" fill="#1587c3"/><rect x="89.95" y="345.73" width="2.2" height="56.17" fill="#1587c3"/><rect x="95.45" y="350.10" width="2.2" height="51.80" fill="#1587c3"/><rect x="100.96" y="346.84" width="2.2" height="55.06" fill="#1587c3"/><rect x="106.48" y="389.81" width="2.2" height="12.09" fill="#1587c3"/><rect x="111.98" y="364.05" width="2.2" height="37.85" fill="#1587c3"/><rect x="117.49" y="372.70" width="2.2" height="29.20" fill="#1587c3"/><rect x="123.01" y="358.38" width="2.2" height="43.52" fill="#1587c3"/><rect x="128.52" y="345.08" width="2.2" height="56.82" fill="#1587c3"/><rect x="134.03" y="340.33" width="2.2" height="61.57" fill="#1587c3"/><rect x="139.54" y="342.66" width="2.2" height="59.24" fill="#1587c3"/><rect x="145.05" y="346.10" width="2.2" height="55.80" fill="#1587c3"/><rect x="150.56" y="367.12" width="2.2" height="34.78" fill="#1587c3"/><rect x="156.06" y="350.94" width="2.2" height="50.96" fill="#1587c3"/><rect x="161.58" y="350.56" width="2.2" height="51.34" fill="#1587c3"/><rect x="167.09" y="365.72" width="2.2" height="36.18" fill="#1587c3"/><rect x="172.60" y="358.65" width="2.2" height="43.25" fill="#1587c3"/><rect x="178.11" y="375.86" width="2.2" height="26.04" fill="#1587c3"/><rect x="183.62" y="335.68" width="2.2" height="66.22" fill="#1587c3"/><rect x="189.13" y="387.48" width="2.2" height="14.42" fill="#1587c3"/><rect x="194.64" y="333.64" width="2.2" height="68.26" fill="#1587c3"/><rect x="200.15" y="328.34" width="2.2" height="73.56" fill="#1587c3"/><rect x="205.66" y="345.82" width="2.2" height="56.08" fill="#1587c3"/><rect x="211.17" y="370.74" width="2.2" height="31.16" fill="#1587c3"/><rect x="216.68" y="325.27" width="2.2" height="76.63" fill="#1587c3"/><rect x="222.19" y="333.82" width="2.2" height="68.08" fill="#1587c3"/><rect x="227.70" y="337.26" width="2.2" height="64.64" fill="#1587c3"/><rect x="233.21" y="378.65" width="2.2" height="23.25" fill="#1587c3"/><rect x="238.72" y="355.03" width="2.2" height="46.87" fill="#1587c3"/><rect x="244.23" y="326.94" width="2.2" height="74.96" fill="#1587c3"/><rect x="249.74" y="336.43" width="2.2" height="65.47" fill="#1587c3"/><rect x="255.24" y="338.01" width="2.2" height="63.89" fill="#1587c3"/><rect x="260.75" y="326.29" width="2.2" height="75.61" fill="#1587c3"/><polyline points="41.45,348.72 46.96,353.09 52.47,360.29 57.98,306.07 63.49,369.80 69.00,371.60 74.52,393.44 80.02,352.59 85.53,356.18 91.05,351.29 96.55,351.29 102.06,338.96 107.58,371.60 113.08,368.51 118.59,367.75 124.11,373.65 129.62,355.16 135.12,351.29 140.64,329.97 146.15,336.39 151.66,362.08 157.16,361.31 162.68,328.69 168.19,356.44 173.70,358.23 179.21,360.29 184.72,345.39 190.23,369.80 195.74,354.38 201.25,331.26 206.76,355.16 212.27,349.24 217.78,311.99 223.28,328.69 228.80,331.26 234.31,380.08 239.81,350.75 245.33,307.36 250.84,359.51 256.34,315.08 261.86,324.84" fill="none" stroke="#ef7119" stroke-width="2.3" stroke-linejoin="round" stroke-linecap="round"/><text x="41.16" y="415.80" class="xt">1</text><text x="52.17" y="415.80" class="xt">3</text><text x="63.19" y="415.80" class="xt">5</text><text x="74.22" y="415.80" class="xt">7</text><text x="85.23" y="415.80" class="xt">9</text><text x="96.25" y="415.80" class="xt">11</text><text x="107.28" y="415.80" class="xt">13</text><text x="118.29" y="415.80" class="xt">15</text><text x="129.31" y="415.80" class="xt">17</text><text x="140.34" y="415.80" class="xt">19</text><text x="151.35" y="415.80" class="xt">21</text><text x="162.38" y="415.80" class="xt">23</text><text x="173.40" y="415.80" class="xt">25</text><text x="184.41" y="415.80" class="xt">27</text><text x="195.44" y="415.80" class="xt">29</text><text x="206.46" y="415.80" class="xt">31</text><text x="217.47" y="415.80" class="xt">33</text><text x="228.50" y="415.80" class="xt">35</text><text x="239.51" y="415.80" class="xt">37</text><text x="250.53" y="415.80" class="xt">39</text><text x="261.56" y="415.80" class="xt">41</text><text x="151.2" y="426.9" class="st" textLength="67.5" lengthAdjust="spacingAndGlyphs">Sampling points</text><text x="147.0" y="437.90000000000003" class="pl">(e)</text><text transform="translate(12.0,388.7) rotate(-90)" class="yl">Soil salinity (ds m<tspan class="sup" dy="-4">-1</tspan><tspan dy="4">)</tspan></text></g><g><line x1="317.50" y1="299.20" x2="317.50" y2="402.30" stroke="#d9d9d9" stroke-width="1"/><line x1="317.50" y1="402.30" x2="543.41" y2="402.30" stroke="#d9d9d9" stroke-width="1"/><line x1="315.00" y1="402.30" x2="317.50" y2="402.30" stroke="#d9d9d9" stroke-width="1"/><text x="312.00" y="405.40" class="yt">0</text><line x1="315.00" y1="385.12" x2="317.50" y2="385.12" stroke="#d9d9d9" stroke-width="1"/><text x="312.00" y="388.22" class="yt">1000</text><line x1="315.00" y1="367.94" x2="317.50" y2="367.94" stroke="#d9d9d9" stroke-width="1"/><text x="312.00" y="371.04" class="yt">2000</text><line x1="315.00" y1="350.76" x2="317.50" y2="350.76" stroke="#d9d9d9" stroke-width="1"/><text x="312.00" y="353.86" class="yt">3000</text><line x1="315.00" y1="333.58" x2="317.50" y2="333.58" stroke="#d9d9d9" stroke-width="1"/><text x="312.00" y="336.68" class="yt">4000</text><line x1="315.00" y1="316.40" x2="317.50" y2="316.40" stroke="#d9d9d9" stroke-width="1"/><text x="312.00" y="319.50" class="yt">5000</text><line x1="315.00" y1="299.22" x2="317.50" y2="299.22" stroke="#d9d9d9" stroke-width="1"/><text x="312.00" y="302.32" class="yt">6000</text><line x1="317.50" y1="402.30" x2="317.50" y2="404.80" stroke="#d9d9d9" stroke-width="0.8"/><line x1="323.01" y1="402.30" x2="323.01" y2="404.80" stroke="#d9d9d9" stroke-width="0.8"/><line x1="328.52" y1="402.30" x2="328.52" y2="404.80" stroke="#d9d9d9" stroke-width="0.8"/><line x1="334.03" y1="402.30" x2="334.03" y2="404.80" stroke="#d9d9d9" stroke-width="0.8"/><line x1="339.54" y1="402.30" x2="339.54" y2="404.80" stroke="#d9d9d9" stroke-width="0.8"/><line x1="345.05" y1="402.30" x2="345.05" y2="404.80" stroke="#d9d9d9" stroke-width="0.8"/><line x1="350.56" y1="402.30" x2="350.56" y2="404.80" stroke="#d9d9d9" stroke-width="0.8"/><line x1="356.07" y1="402.30" x2="356.07" y2="404.80" stroke="#d9d9d9" stroke-width="0.8"/><line x1="361.58" y1="402.30" x2="361.58" y2="404.80" stroke="#d9d9d9" stroke-width="0.8"/><line x1="367.09" y1="402.30" x2="367.09" y2="404.80" stroke="#d9d9d9" stroke-width="0.8"/><line x1="372.60" y1="402.30" x2="372.60" y2="404.80" stroke="#d9d9d9" stroke-width="0.8"/><line x1="378.11" y1="402.30" x2="378.11" y2="404.80" stroke="#d9d9d9" stroke-width="0.8"/><line x1="383.62" y1="402.30" x2="383.62" y2="404.80" stroke="#d9d9d9" stroke-width="0.8"/><line x1="389.13" y1="402.30" x2="389.13" y2="404.80" stroke="#d9d9d9" stroke-width="0.8"/><line x1="394.64" y1="402.30" x2="394.64" y2="404.80" stroke="#d9d9d9" stroke-width="0.8"/><line x1="400.15" y1="402.30" x2="400.15" y2="404.80" stroke="#d9d9d9" stroke-width="0.8"/><line x1="405.66" y1="402.30" x2="405.66" y2="404.80" stroke="#d9d9d9" stroke-width="0.8"/><line x1="411.17" y1="402.30" x2="411.17" y2="404.80" stroke="#d9d9d9" stroke-width="0.8"/><line x1="416.68" y1="402.30" x2="416.68" y2="404.80" stroke="#d9d9d9" stroke-width="0.8"/><line x1="422.19" y1="402.30" x2="422.19" y2="404.80" stroke="#d9d9d9" stroke-width="0.8"/><line x1="427.70" y1="402.30" x2="427.70" y2="404.80" stroke="#d9d9d9" stroke-width="0.8"/><line x1="433.21" y1="402.30" x2="433.21" y2="404.80" stroke="#d9d9d9" stroke-width="0.8"/><line x1="438.72" y1="402.30" x2="438.72" y2="404.80" stroke="#d9d9d9" stroke-width="0.8"/><line x1="444.23" y1="402.30" x2="444.23" y2="404.80" stroke="#d9d9d9" stroke-width="0.8"/><line x1="449.74" y1="402.30" x2="449.74" y2="404.80" stroke="#d9d9d9" stroke-width="0.8"/><line x1="455.25" y1="402.30" x2="455.25" y2="404.80" stroke="#d9d9d9" stroke-width="0.8"/><line x1="460.76" y1="402.30" x2="460.76" y2="404.80" stroke="#d9d9d9" stroke-width="0.8"/><line x1="466.27" y1="402.30" x2="466.27" y2="404.80" stroke="#d9d9d9" stroke-width="0.8"/><line x1="471.78" y1="402.30" x2="471.78" y2="404.80" stroke="#d9d9d9" stroke-width="0.8"/><line x1="477.29" y1="402.30" x2="477.29" y2="404.80" stroke="#d9d9d9" stroke-width="0.8"/><line x1="482.80" y1="402.30" x2="482.80" y2="404.80" stroke="#d9d9d9" stroke-width="0.8"/><line x1="488.31" y1="402.30" x2="488.31" y2="404.80" stroke="#d9d9d9" stroke-width="0.8"/><line x1="493.82" y1="402.30" x2="493.82" y2="404.80" stroke="#d9d9d9" stroke-width="0.8"/><line x1="499.33" y1="402.30" x2="499.33" y2="404.80" stroke="#d9d9d9" stroke-width="0.8"/><line x1="504.84" y1="402.30" x2="504.84" y2="404.80" stroke="#d9d9d9" stroke-width="0.8"/><line x1="510.35" y1="402.30" x2="510.35" y2="404.80" stroke="#d9d9d9" stroke-width="0.8"/><line x1="515.86" y1="402.30" x2="515.86" y2="404.80" stroke="#d9d9d9" stroke-width="0.8"/><line x1="521.37" y1="402.30" x2="521.37" y2="404.80" stroke="#d9d9d9" stroke-width="0.8"/><line x1="526.88" y1="402.30" x2="526.88" y2="404.80" stroke="#d9d9d9" stroke-width="0.8"/><line x1="532.39" y1="402.30" x2="532.39" y2="404.80" stroke="#d9d9d9" stroke-width="0.8"/><line x1="537.90" y1="402.30" x2="537.90" y2="404.80" stroke="#d9d9d9" stroke-width="0.8"/><line x1="543.41" y1="402.30" x2="543.41" y2="404.80" stroke="#d9d9d9" stroke-width="0.8"/><rect x="319.45" y="354.37" width="2.2" height="47.93" fill="#1587c3"/><rect x="324.96" y="366.82" width="2.2" height="35.48" fill="#1587c3"/><rect x="330.47" y="384.43" width="2.2" height="17.87" fill="#1587c3"/><rect x="335.99" y="335.64" width="2.2" height="66.66" fill="#1587c3"/><rect x="341.50" y="385.64" width="2.2" height="16.66" fill="#1587c3"/><rect x="347.00" y="390.36" width="2.2" height="11.94" fill="#1587c3"/><rect x="352.51" y="393.37" width="2.2" height="8.93" fill="#1587c3"/><rect x="358.02" y="357.89" width="2.2" height="44.41" fill="#1587c3"/><rect x="363.53" y="360.90" width="2.2" height="41.40" fill="#1587c3"/><rect x="369.05" y="350.42" width="2.2" height="51.88" fill="#1587c3"/><rect x="374.56" y="354.45" width="2.2" height="47.85" fill="#1587c3"/><rect x="380.06" y="351.45" width="2.2" height="50.85" fill="#1587c3"/><rect x="385.57" y="391.13" width="2.2" height="11.17" fill="#1587c3"/><rect x="391.08" y="367.34" width="2.2" height="34.96" fill="#1587c3"/><rect x="396.59" y="375.33" width="2.2" height="26.97" fill="#1587c3"/><rect x="402.10" y="362.10" width="2.2" height="40.20" fill="#1587c3"/><rect x="407.61" y="349.82" width="2.2" height="52.48" fill="#1587c3"/><rect x="413.12" y="345.43" width="2.2" height="56.87" fill="#1587c3"/><rect x="418.63" y="347.58" width="2.2" height="54.72" fill="#1587c3"/><rect x="424.14" y="350.76" width="2.2" height="51.54" fill="#1587c3"/><rect x="429.65" y="370.17" width="2.2" height="32.13" fill="#1587c3"/><rect x="435.16" y="355.23" width="2.2" height="47.07" fill="#1587c3"/><rect x="440.68" y="354.88" width="2.2" height="47.42" fill="#1587c3"/><rect x="446.19" y="368.88" width="2.2" height="33.42" fill="#1587c3"/><rect x="451.69" y="362.36" width="2.2" height="39.94" fill="#1587c3"/><rect x="457.20" y="378.25" width="2.2" height="24.05" fill="#1587c3"/><rect x="462.71" y="341.14" width="2.2" height="61.16" fill="#1587c3"/><rect x="468.22" y="388.99" width="2.2" height="13.31" fill="#1587c3"/><rect x="473.73" y="339.25" width="2.2" height="63.05" fill="#1587c3"/><rect x="479.24" y="334.35" width="2.2" height="67.95" fill="#1587c3"/><rect x="484.75" y="350.50" width="2.2" height="51.80" fill="#1587c3"/><rect x="490.26" y="373.52" width="2.2" height="28.78" fill="#1587c3"/><rect x="495.77" y="331.52" width="2.2" height="70.78" fill="#1587c3"/><rect x="501.28" y="339.42" width="2.2" height="62.88" fill="#1587c3"/><rect x="506.80" y="342.60" width="2.2" height="59.70" fill="#1587c3"/><rect x="512.30" y="380.82" width="2.2" height="21.48" fill="#1587c3"/><rect x="517.81" y="359.01" width="2.2" height="43.29" fill="#1587c3"/><rect x="523.32" y="333.06" width="2.2" height="69.24" fill="#1587c3"/><rect x="528.83" y="341.83" width="2.2" height="60.47" fill="#1587c3"/><rect x="534.34" y="343.29" width="2.2" height="59.01" fill="#1587c3"/><rect x="539.85" y="332.46" width="2.2" height="69.84" fill="#1587c3"/><polyline points="320.56,332.64 326.06,352.77 331.57,372.89 337.09,317.93 342.60,386.31 348.11,376.75 353.62,392.25 359.12,352.77 364.63,351.48 370.15,334.70 375.66,390.19 381.17,336.00 386.68,387.59 392.19,365.16 397.69,361.27 403.20,379.86 408.71,348.39 414.23,331.60 419.74,329.03 425.25,330.32 430.75,371.38 436.26,359.73 441.78,354.06 447.29,336.78 452.80,350.18 458.31,341.16 463.81,329.54 469.32,390.19 474.83,330.83 480.34,305.03 485.86,342.44 491.37,341.16 496.88,315.35 502.38,305.54 507.90,305.54 513.40,369.54 518.91,355.23 524.42,317.41 529.93,338.05 535.44,321.81 540.95,306.32" fill="none" stroke="#ef7119" stroke-width="2.3" stroke-linejoin="round" stroke-linecap="round"/><text x="320.25" y="416.20" class="xt">1</text><text x="331.27" y="416.20" class="xt">3</text><text x="342.30" y="416.20" class="xt">5</text><text x="353.31" y="416.20" class="xt">7</text><text x="364.33" y="416.20" class="xt">9</text><text x="375.36" y="416.20" class="xt">11</text><text x="386.38" y="416.20" class="xt">13</text><text x="397.39" y="416.20" class="xt">15</text><text x="408.41" y="416.20" class="xt">17</text><text x="419.44" y="416.20" class="xt">19</text><text x="430.45" y="416.20" class="xt">21</text><text x="441.48" y="416.20" class="xt">23</text><text x="452.50" y="416.20" class="xt">25</text><text x="463.51" y="416.20" class="xt">27</text><text x="474.53" y="416.20" class="xt">29</text><text x="485.56" y="416.20" class="xt">31</text><text x="496.57" y="416.20" class="xt">33</text><text x="507.60" y="416.20" class="xt">35</text><text x="518.62" y="416.20" class="xt">37</text><text x="529.63" y="416.20" class="xt">39</text><text x="540.65" y="416.20" class="xt">41</text><text x="431.5" y="426.7" class="st" textLength="67.5" lengthAdjust="spacingAndGlyphs">Sampling points</text><text x="427.7" y="438.20000000000005" class="pl">(f)</text><text transform="translate(289.0,388.0) rotate(-90)" class="yl">Soil salinity (ds m<tspan class="sup" dy="-4">-1</tspan><tspan dy="4">)</tspan></text></g>
<rect x="219.7" y="436.9" width="17.8" height="4.8" fill="#1493d2" stroke="#1f74a6" stroke-width="0.6"/><text x="244.3" y="443.2" class="lg" textLength="40.8" lengthAdjust="spacingAndGlyphs">Observed</text><line x1="298.4" y1="439" x2="319.7" y2="439" stroke="#ef7119" stroke-width="2.3"/><text x="324.6" y="443.2" class="lg" textLength="43.0" lengthAdjust="spacingAndGlyphs">Simulated</text>
</svg>
</body></html>
